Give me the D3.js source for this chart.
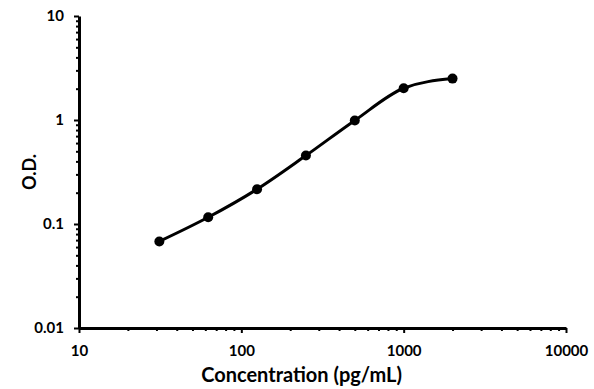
<!DOCTYPE html>
<html>
<head>
<meta charset="utf-8">
<script src="https://cdn.jsdelivr.net/npm/d3@7"></script>
<style>
  body { margin: 0; background: #fff; }
  text { font-family: "Century Gothic", Lato, "DejaVu Sans", sans-serif; font-weight: bold; fill: #000; }
</style>
</head>
<body>
<svg id="chart" width="594" height="389"></svg>
<script>
// standard curve, concentration vs O.D.
const concentration = [31.25, 62.5, 125, 250, 500, 1000, 2000];
const od = [0.068, 0.116, 0.216, 0.455, 0.99, 2.02, 2.5];
const xTicks = [10, 100, 1000, 10000];
const yTicks = [0.01, 0.1, 1, 10];

const svg = d3.select('#chart');
let margins = { 'left': 79, 'top': 16, 'right': 28, 'bottom': 61 };
let chartWidth = svg.attr('width') - margins.left - margins.right;
let chartHeight = svg.attr('height') - margins.top - margins.bottom;
let chartArea = svg.append('g').attr('transform', `translate(${margins.left},${margins.top})`);

const xScale = d3.scaleLog().domain([10, 10000]).range([0, chartWidth]);
const yScale = d3.scaleLog().domain([0.01, 10]).range([chartHeight, 0]);

// minor ticks between decades
const minorX = [];
for (let d = 10; d < 10000; d *= 10) for (let k = 2; k <= 9; k++) minorX.push(d * k);
const minorY = [];
for (let d = 0.01; d < 9; d *= 10) for (let k = 2; k <= 9; k++) minorY.push(+(d * k).toPrecision(3));

chartArea.append('g')
  .attr('transform', `translate(0,${chartHeight})`)
  .call(d3.axisBottom(xScale).tickValues(minorX).tickSize(3).tickFormat(''))
  .call(g => g.select('.domain').remove())
  .selectAll('line').attr('stroke-width', 2);

chartArea.append('g')
  .call(d3.axisLeft(yScale).tickValues(minorY).tickSize(3).tickFormat(''))
  .call(g => g.select('.domain').remove())
  .selectAll('line').attr('stroke-width', 2);

let bottomAxis = chartArea.append('g')
  .attr('transform', `translate(0,${chartHeight})`)
  .call(d3.axisBottom(xScale).tickValues(xTicks).tickSize(5).tickSizeOuter(0).tickPadding(12).tickFormat(d3.format('d')));
bottomAxis.select('.domain').attr('stroke-width', 3);
bottomAxis.selectAll('line').attr('stroke-width', 2);
bottomAxis.selectAll('text').style('font-size', '15px');

let leftAxis = chartArea.append('g')
  .call(d3.axisLeft(yScale).tickValues(yTicks).tickSize(5).tickSizeOuter(0).tickPadding(10).tickFormat(d => d3.format('')(d)));
leftAxis.select('.domain').attr('stroke-width', 3);
leftAxis.selectAll('line').attr('stroke-width', 2);
leftAxis.selectAll('text').style('font-size', '15px');

const points = concentration.map((c, i) => [c, od[i]]);
const line = d3.line()
  .x(d => xScale(d[0]))
  .y(d => yScale(d[1]))
  .curve(d3.curveMonotoneX);

chartArea.append('path')
  .datum(points)
  .attr('d', line)
  .attr('fill', 'none')
  .attr('stroke', '#000')
  .attr('stroke-width', 3);

chartArea.selectAll('circle')
  .data(points)
  .enter().append('circle')
  .attr('cx', d => xScale(d[0]))
  .attr('cy', d => yScale(d[1]))
  .attr('r', 5)
  .style('fill', '#000');

svg.append('text')
  .attr('x', margins.left + xScale(235))
  .attr('y', 382)
  .attr('text-anchor', 'middle')
  .style('font-size', '20px')
  .text('Concentration (pg/mL)');

svg.append('text')
  .attr('transform', `translate(36,${margins.top + chartHeight / 2}) rotate(-90)`)
  .attr('text-anchor', 'middle')
  .style('font-size', '18px')
  .text('O.D.');
</script>
</body>
</html>
